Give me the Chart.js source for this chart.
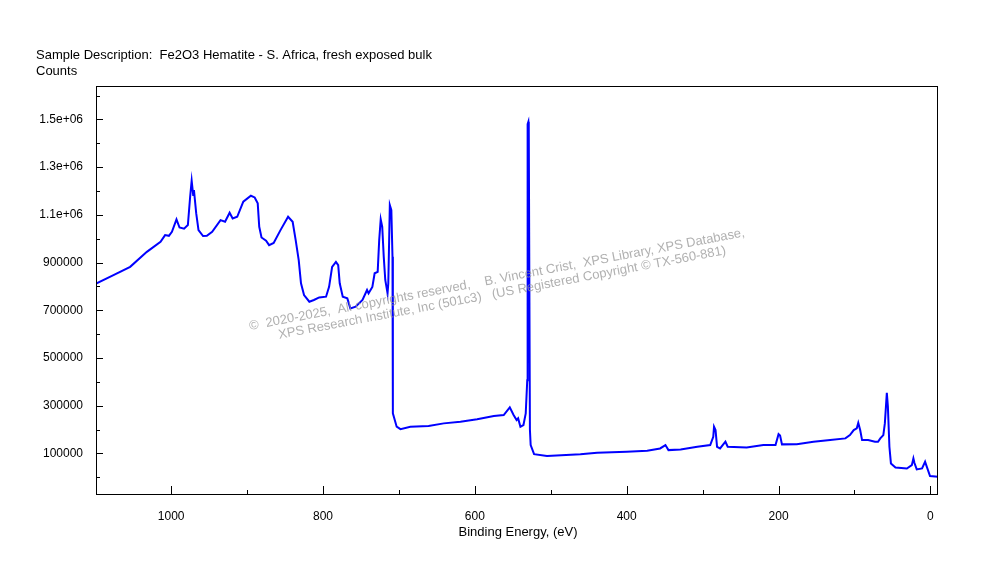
<!DOCTYPE html>
<html>
<head>
<meta charset="utf-8">
<script src="https://cdn.jsdelivr.net/npm/chart.js@4/dist/chart.umd.min.js"></script>
<style>
  html, body { margin: 0; padding: 0; background: #fff; }
</style>
</head>
<body>
<canvas id="myChart" width="995" height="569"></canvas>
<script>
// survey spectrum, binding energy (eV) and counts
const energy = [
  1100, 1076, 1054, 1032, 1014, 1008, 1003, 999, 993, 989, 983, 978, 975, 973, 971, 970,
  967, 964, 958, 953, 946, 935, 929, 923, 919, 913, 905, 895, 890, 886, 884, 881,
  875, 871, 865, 856, 846, 840, 836, 832, 829, 825, 818, 812, 805, 796, 792, 788,
  783, 780, 778, 774, 768, 764, 757, 748, 742, 740, 735, 732, 728, 726, 724, 722,
  720, 718, 715, 714, 712, 710, 708.5, 708, 703, 698, 685, 661, 641, 619, 597, 575,
  562, 554, 549, 545, 543, 540, 536, 533, 531, 530.5, 529.5, 529, 527.5, 526.5, 522, 505, 461,
  439, 400, 373, 356, 349, 345, 329, 307, 290, 286, 285, 283, 281, 277, 270, 267,
  242, 220, 204, 200, 198, 195.5, 176, 154, 132, 112, 106, 101, 97, 95, 92.5, 90,
  82, 73, 69, 66, 62, 60, 57.4, 56, 54, 52, 46, 31, 24.5, 22.4, 21, 18,
  11, 7, 4.7, 0.5, -10
];
const counts = [
  810000, 847000, 882000, 945000, 987000, 1015000, 1012000, 1029000, 1081000, 1047000, 1042000, 1057000, 1176000, 1243000, 1183000, 1204000,
  1106000, 1036000, 1011000, 1012000, 1029000, 1078000, 1071000, 1109000, 1085000, 1092000, 1155000, 1180000, 1173000, 1148000, 1050000, 1005000,
  992000, 973000, 982000, 1036000, 1092000, 1071000, 994000, 910000, 813000, 764000, 736000, 743000, 754000, 757000, 798000, 882000,
  903000, 889000, 813000, 757000, 750000, 708000, 715000, 743000, 785000, 771000, 798000, 855000, 861000, 994000, 1081000, 1050000,
  924000, 827000, 771000, 813000, 1141000, 1120000, 924000, 268000, 212000, 202000, 212000, 215000, 226000, 233000, 243000, 257000,
  261000, 293000, 261000, 240000, 247000, 212000, 219000, 268000, 407000, 1480000, 1490000, 1460000, 200000, 135000, 97000, 89000, 97000,
  103000, 107000, 111000, 121000, 135000, 114000, 117000, 128000, 135000, 170000, 212000, 198000, 128000, 121000, 149000, 128000,
  125000, 135000, 135000, 181000, 175000, 138000, 139000, 149000, 156000, 163000, 177000, 198000, 205000, 228000, 198000, 156000,
  156000, 149000, 149000, 163000, 177000, 226000, 354000, 296000, 128000, 58000, 41000, 37000, 51000, 79000, 60000, 33000,
  37000, 65000, 44000, 5000, 2000
];

const xMajorTicks = [1000, 800, 600, 400, 200, 0];
const xMinorTicks = [900, 700, 500, 300, 100];
const yMajorTicks = [100000, 300000, 500000, 700000, 900000, 1100000, 1300000, 1500000];
const yMinorTicks = [0, 200000, 400000, 600000, 800000, 1000000, 1200000, 1400000, 1600000];

const FONT = "'Liberation Sans', Arial, sans-serif";

function fmtCounts(v) {
  if (v >= 1000000) return (v / 1000000).toFixed(1) + "e+06";
  return String(v);
}

// frame, inward ticks, headings and the copyright watermark
const decorations = {
  id: "decorations",
  afterDatasetsDraw(chart) {
    const ctx = chart.ctx;
    const a = chart.chartArea;
    const xs = chart.scales.x;
    const ys = chart.scales.y;

    ctx.save();
    ctx.fillStyle = "rgba(150,150,150,0.75)";
    ctx.font = "13px " + FONT;
    ctx.textBaseline = "alphabetic";
    ctx.translate(250, 330);
    ctx.rotate(-0.187);
    ctx.fillText("\u00A9  2020-2025,  All copyrights reserved,    B. Vincent Crist,  XPS Library, XPS Database,", 0, 0);
    ctx.fillText("XPS Research Institute, Inc (501c3)   (US Registered Copyright \u00A9 TX-560-881)", 27, 14);
    ctx.restore();

    ctx.save();
    ctx.strokeStyle = "#000";
    ctx.lineWidth = 1;
    ctx.strokeRect(a.left + 0.5, a.top + 0.5, a.right - a.left - 1, a.bottom - a.top);

    ctx.beginPath();
    xMajorTicks.forEach(v => {
      const px = Math.round(xs.getPixelForValue(v)) + 0.5;
      ctx.moveTo(px, a.bottom); ctx.lineTo(px, a.bottom - 8);
    });
    xMinorTicks.forEach(v => {
      const px = Math.round(xs.getPixelForValue(v)) + 0.5;
      ctx.moveTo(px, a.bottom); ctx.lineTo(px, a.bottom - 4);
    });
    yMajorTicks.forEach(v => {
      const py = Math.round(ys.getPixelForValue(v)) + 0.5;
      ctx.moveTo(a.left, py); ctx.lineTo(a.left + 7, py);
    });
    yMinorTicks.forEach(v => {
      const py = Math.round(ys.getPixelForValue(v)) + 0.5;
      ctx.moveTo(a.left, py); ctx.lineTo(a.left + 4, py);
    });
    ctx.stroke();

    ctx.fillStyle = "#000";
    ctx.font = "13px " + FONT;
    ctx.textAlign = "left";
    ctx.fillText("Sample Description:  Fe2O3 Hematite - S. Africa, fresh exposed bulk", 36, 59);
    ctx.fillText("Counts", 36, 75);
    ctx.textAlign = "center";
    ctx.fillText("Binding Energy, (eV)", 518, 536);
    ctx.restore();
  }
};

const ctx = document.getElementById("myChart").getContext("2d");
new Chart(ctx, {
  type: "line",
  data: {
    datasets: [
      {
        label: "Counts",
        data: energy.map((e, i) => ({ x: e, y: counts[i] })),
        borderColor: "#0000ff",
        borderWidth: 2,
        pointRadius: 0,
        tension: 0,
        fill: false
      }
    ]
  },
  options: {
    responsive: false,
    animation: false,
    layout: { padding: { top: 86, right: 57, left: 0, bottom: 0 } },
    plugins: { legend: { display: false }, tooltip: { enabled: false } },
    scales: {
      x: {
        type: "linear",
        reverse: true,
        min: -10,
        max: 1099,
        grid: { display: false },
        border: { display: false },
        ticks: { color: "#000", font: { family: FONT, size: 12 }, padding: 7, maxRotation: 0, autoSkip: false, callback: v => String(v) },
        afterBuildTicks: s => { s.ticks = xMajorTicks.map(v => ({ value: v })); },
        afterFit: s => { s.height = 75; }
      },
      y: {
        type: "linear",
        min: -70000,
        max: 1640000,
        grid: { display: false },
        border: { display: false },
        ticks: { color: "#000", font: { family: FONT, size: 12 }, padding: 5, callback: v => fmtCounts(v), autoSkip: false },
        afterBuildTicks: s => { s.ticks = yMajorTicks.map(v => ({ value: v })); },
        afterFit: s => { s.width = 96; }
      }
    }
  },
  plugins: [decorations]
});
</script>
</body>
</html>
